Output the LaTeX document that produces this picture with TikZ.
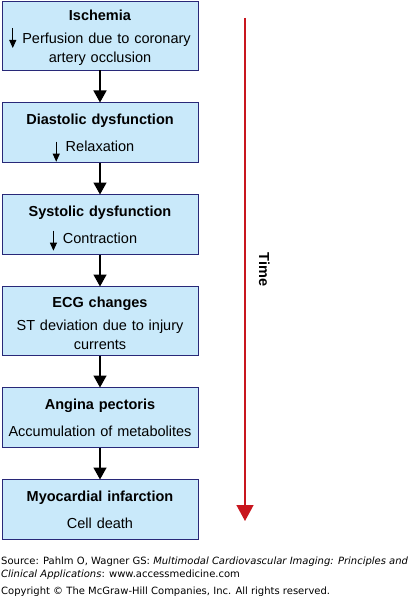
\documentclass[tikz,border=0pt]{standalone}
\usepackage{fontspec}
\setmainfont{Liberation Sans}
\newfontfamily\notefont{DejaVu Sans}
\usetikzlibrary{arrows.meta,positioning}
\definecolor{stagefill}{RGB}{201,233,250}
\definecolor{stageline}{RGB}{40,40,120}
\definecolor{timered}{RGB}{200,22,30}
\newcommand{\dec}[1][16]{\tikz[baseline=-#1pt]\draw[line width=1pt,-{Triangle[width=7pt,length=8pt]}] (0,0) -- (0,-20pt);}
\newcommand{\decl}[1][16]{\leavevmode\smash{\llap{\dec[#1]\hspace{6pt}}}}
\newcommand{\ttl}[2][15]{\rule{0pt}{#1pt}\textbf{#2}}
\begin{document}
\begin{tikzpicture}[x=1pt,y=1pt,node distance=32pt,
    stage/.style={rectangle,draw=stageline,fill=stagefill,line width=1pt,outer sep=0pt,
        minimum width=196pt,text width=186pt,inner xsep=5pt,inner ysep=2pt,
        align=center,font=\fontsize{14.5}{19}\selectfont},
    tall/.style={stage,minimum height=69pt},
    short/.style={stage,minimum height=60pt},
    flow/.style={line width=1.5pt,-{Triangle[width=13pt,length=12pt]}},
    note/.style={anchor=base west,inner sep=0pt,font=\notefont\fontsize{10}{13}\selectfont}]
\useasboundingbox (0,0) rectangle (411,-596);
\node (isch) at (100,-36) [tall] {\ttl{Ischemia}\\[4pt]\dec[16]\hspace{6pt}Perfusion due to coronary\\artery occlusion};
\node (diast) [short,below=of isch] {\ttl[11.5]{Diastolic dysfunction}\\[8pt]\decl[10]Relaxation};
\node (syst) [short,below=of diast] {\ttl[11.5]{Systolic dysfunction}\\[8pt]\decl[13]Contraction};
\node (ecg) [tall,below=of syst] {\ttl{ECG changes}\\[4pt]ST deviation due to injury\\currents};
\node (angina) [short,below=of ecg] {\ttl[11.5]{Angina pectoris}\\[8pt]Accumulation of metabolites};
\node (infarct) [short,below=of angina] {\ttl[11.5]{Myocardial infarction}\\[8pt]Cell death};
\draw [flow] (isch) to (diast);
\draw [flow] (diast) to (syst);
\draw [flow] (syst) to (ecg);
\draw [flow] (ecg) to (angina);
\draw [flow] (angina) to (infarct);
\coordinate (tstart) at (245,-18);
\coordinate (tend) at (245,-521);
\draw [timered,line width=1.5pt,-{Triangle[width=17pt,length=16pt]}] (tstart) to
    node [midway,rotate=-90,anchor=south,inner sep=0pt,outer sep=14pt,text=black,
          font=\bfseries\fontsize{14.5}{17}\selectfont] (timelbl) {Time} (tend);
\node (src1) at (1,-564) [note] {Source: Pahlm O, Wagner GS: \textit{Multimodal Cardiovascular Imaging: Principles and}};
\node (src2) at (1,-577) [note] {\textit{Clinical Applications}: www.accessmedicine.com};
\node (copy) at (1,-594) [note] {Copyright \textcopyright{} The McGraw-Hill Companies, Inc. All rights reserved.};
\end{tikzpicture}
\end{document}
